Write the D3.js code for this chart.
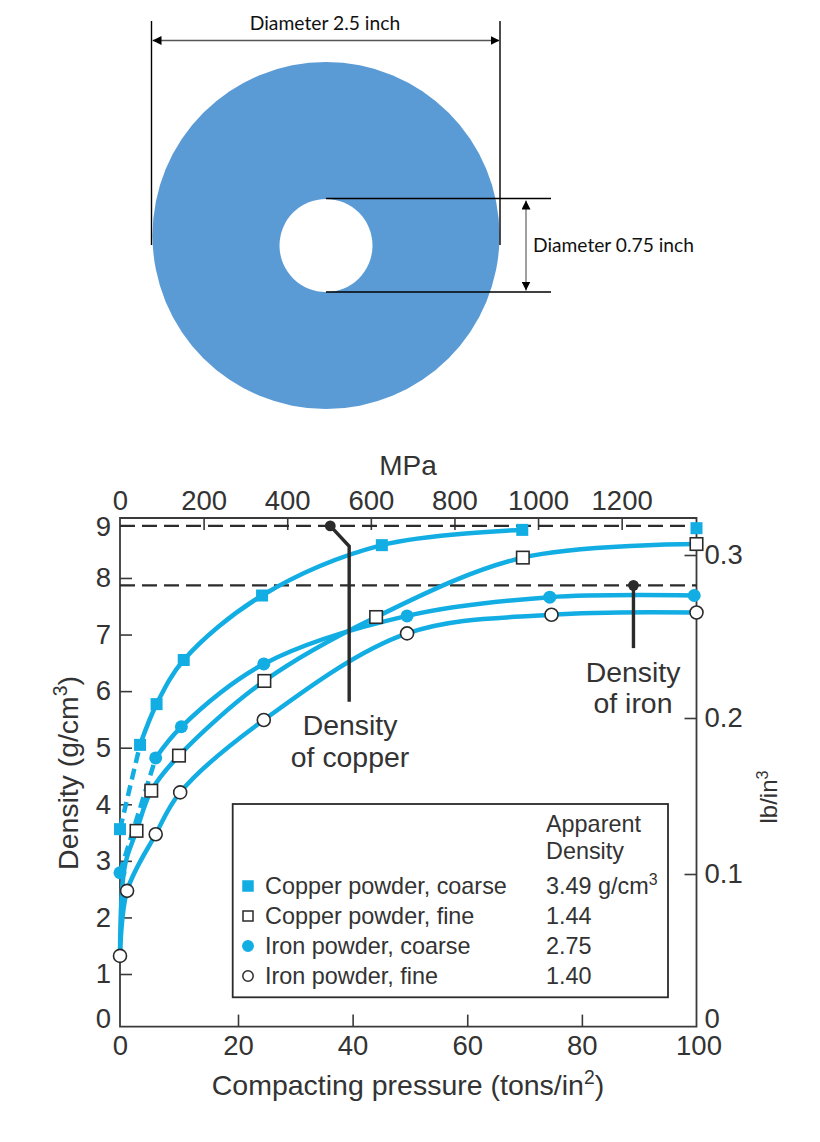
<!DOCTYPE html>
<html>
<head>
<meta charset="utf-8">
<script src="https://cdn.jsdelivr.net/npm/d3@7"></script>
<style>
  html, body { margin: 0; padding: 0; background: #fff; }
  svg { display: block; }
  text { font-family: "Liberation Sans", sans-serif; fill: #333; }
  .dim text { font-family: "Lato", sans-serif; fill: #111; }
  .axis .domain { display: none; }
  .axis line { stroke: #3a3a3a; stroke-width: 1.6; }
  .axis text { font-family: "Liberation Sans", sans-serif; font-size: 27.5px; fill: #333; }
</style>
</head>
<body>
<svg id="chart" width="820" height="1142"></svg>
<script>
// Axis ticks
var tonsTicks = [0, 20, 40, 60, 80, 100];
var mpaTicks = [0, 200, 400, 600, 800, 1000, 1200];
var densityTicks = [0, 1, 2, 3, 4, 5, 6, 7, 8, 9];
var lbTicks = [0, 0.1, 0.2, 0.3];

// Measured points, [tons/in2, g/cm3]
var copperCoarse = [[0, 3.56], [3.4, 5.05], [6.2, 5.77], [10.8, 6.55], [24.2, 7.69], [45.1, 8.58], [69.6, 8.85], [100, 8.88]];
var copperFine = [[0.8, 2.9], [2.8, 3.53], [5.3, 4.24], [10, 4.86], [24.6, 6.18], [44.1, 7.31], [69.7, 8.36], [100, 8.6]];
var ironCoarse = [[0, 2.79], [6.05, 4.82], [10.4, 5.37], [24.5, 6.48], [49.5, 7.33], [74.4, 7.66], [99.6, 7.69]];
var ironFine = [[0, 1.32], [1.2, 2.47], [6.05, 3.47], [10.2, 4.21], [24.5, 5.49], [49.5, 7.02], [74.7, 7.35], [100, 7.39]];

// Reference densities and their leaders
var densityCopper = 8.92;
var densityIron = 7.87;
var copperLeader = [[36.1, 8.92], [39.4, 8.56], [39.4, 5.81]];
var ironLeader = [[89, 7.87], [89, 6.76]];

// Legend
var legendNames = ['Copper powder, coarse', 'Copper powder, fine', 'Iron powder, coarse', 'Iron powder, fine'];
var legendValues = ['3.49 g/cm', '1.44', '2.75', '1.40'];

var blue = '#12ade3';
var dark = '#2b2b2b';

var svg = d3.select('#chart');

var defs = svg.append('defs');
defs.append('marker').attr('id', 'arrow')
  .attr('viewBox', '0 0 10 10').attr('refX', 10).attr('refY', 5)
  .attr('markerUnits', 'userSpaceOnUse').attr('markerWidth', 9).attr('markerHeight', 9)
  .attr('orient', 'auto-start-reverse')
  .append('path').attr('d', 'M0,0L10,5L0,10Z').attr('fill', '#000');

// Ring drawing
var dim = svg.append('g').attr('class', 'dim');
dim.append('circle').attr('cx', 326).attr('cy', 235.5).attr('r', 173.5).attr('fill', '#5b9bd5');
dim.append('circle').attr('cx', 326).attr('cy', 245.5).attr('r', 46.5).attr('fill', '#fff');

var dimLine = function(x1, y1, x2, y2, color, arrows) {
  var l = dim.append('line')
    .attr('x1', x1).attr('y1', y1).attr('x2', x2).attr('y2', y2)
    .attr('stroke', color).attr('stroke-width', 1.4);
  if (arrows) {
    l.attr('marker-start', 'url(#arrow)').attr('marker-end', 'url(#arrow)');
  }
};
dimLine(151.5, 21, 151.5, 245, '#000');
dimLine(500, 21, 500, 245, '#000');
dimLine(152.5, 40.5, 499.5, 40.5, '#555', true);
dimLine(326, 198.5, 551, 198.5, '#000');
dimLine(326, 292, 551, 292, '#000');
dimLine(526, 200.5, 526, 290.5, '#777', true);
dim.append('text').attr('x', 325).attr('y', 30).attr('text-anchor', 'middle')
  .attr('font-size', 19.3).text('Diameter 2.5 inch');
dim.append('text').attr('x', 533).attr('y', 252)
  .attr('font-size', 19.2).text('Diameter 0.75 inch');

// Scales, the printed axes are not quite even so some have extra stops
var plotLeft = 120, plotRight = 696.5, plotTop = 518, plotBottom = 1026.6;
var x = d3.scaleLinear().domain([0, 20, 100]).range([plotLeft, 238, plotRight]);
var xTop = d3.scaleLinear().domain([0, 1379]).range([plotLeft, plotRight]);
var y = d3.scaleLinear().domain([0, 1, 9.06]).range([plotBottom, 974, plotTop]);
var yRight = d3.scaleLinear().domain([0, 0.1, 0.2, 0.3]).range([plotBottom, 874, 718, 555]);

var plot = svg.append('g');

// Axes
var bottomAxis = plot.append('g').attr('class', 'axis')
  .attr('transform', 'translate(0,' + plotBottom + ')')
  .call(d3.axisBottom(x).tickValues(tonsTicks).tickSize(-12).tickPadding(9));
var topAxis = plot.append('g').attr('class', 'axis')
  .attr('transform', 'translate(0,' + plotTop + ')')
  .call(d3.axisTop(xTop).tickValues(mpaTicks).tickSize(-12).tickPadding(8).tickFormat(d3.format('d')));
var leftAxis = plot.append('g').attr('class', 'axis')
  .attr('transform', 'translate(' + plotLeft + ',0)')
  .call(d3.axisLeft(y).tickValues(densityTicks).tickSize(-12).tickPadding(9));
var rightAxis = plot.append('g').attr('class', 'axis')
  .attr('transform', 'translate(' + plotRight + ',0)')
  .call(d3.axisRight(yRight).tickValues(lbTicks).tickSize(-12).tickPadding(8)
    .tickFormat(function(d) { return d === 0 ? '0' : d3.format('.1f')(d); }));

// End ticks sit on the frame and are not printed
bottomAxis.selectAll('.tick').filter(function(d) { return d === 0 || d === 100; }).select('line').remove();
topAxis.selectAll('.tick').filter(function(d) { return d === 0; }).select('line').remove();
leftAxis.selectAll('.tick').filter(function(d) { return d === 0 || d === 9; }).select('line').remove();
rightAxis.selectAll('.tick').filter(function(d) { return d === 0; }).select('line').remove();

// Labels at the corners are nudged off the frame
leftAxis.selectAll('.tick').filter(function(d) { return d === 0; }).select('text').attr('dy', '0.05em');
leftAxis.selectAll('.tick').filter(function(d) { return d === 9; }).select('text').attr('dy', '0.5em');
bottomAxis.selectAll('.tick').filter(function(d) { return d === 100; }).select('text').attr('dx', 2);
rightAxis.selectAll('.tick').filter(function(d) { return d === 0; }).select('text').attr('dy', '0.05em');

// Frame
plot.append('path')
  .attr('d', 'M' + plotLeft + ',' + plotTop + 'H' + plotRight + 'V' + plotBottom + 'H' + plotLeft + 'Z')
  .attr('fill', 'none').attr('stroke', '#3a3a3a').attr('stroke-width', 1.8);

// Dashed reference densities
plot.selectAll('.refLine').data([densityCopper, densityIron]).enter().append('line')
  .attr('class', 'refLine')
  .attr('x1', plotLeft).attr('x2', plotRight)
  .attr('y1', function(d) { return y(d); })
  .attr('y2', function(d) { return y(d); })
  .attr('stroke', dark).attr('stroke-width', 2.4).attr('stroke-dasharray', '15 7');

// Curves
var line = d3.line()
  .x(function(d) { return x(d[0]); })
  .y(function(d) { return y(d[1]); })
  .curve(d3.curveCatmullRom.alpha(0.5));

var drawCurve = function(points, dashed) {
  plot.append('path').datum(points)
    .attr('d', line)
    .attr('fill', 'none').attr('stroke', blue).attr('stroke-width', 4.5)
    .attr('stroke-dasharray', dashed ? '11 6' : null);
};

drawCurve(copperCoarse.slice(0, 2), true);
drawCurve(copperCoarse.slice(1, 7));
drawCurve(ironCoarse.slice(0, 2), true);
drawCurve(ironCoarse.slice(1));
drawCurve([ironFine[0]].concat(copperFine));
drawCurve(ironFine);

// Markers
var drawSquares = function(g, points, fill, stroke, size) {
  g.selectAll('.sq').data(points).enter().append('rect').attr('class', 'sq')
    .attr('x', function(d) { return x(d[0]) - size / 2; })
    .attr('y', function(d) { return y(d[1]) - size / 2; })
    .attr('width', size).attr('height', size)
    .attr('fill', fill).attr('stroke', stroke).attr('stroke-width', 1.6);
};
var drawCircles = function(g, points, fill, stroke, r) {
  g.selectAll('.dot').data(points).enter().append('circle').attr('class', 'dot')
    .attr('cx', function(d) { return x(d[0]); })
    .attr('cy', function(d) { return y(d[1]); })
    .attr('r', r)
    .attr('fill', fill).attr('stroke', stroke).attr('stroke-width', 1.6);
};
// the first fine copper square is lost under the curves in the print
drawSquares(plot.append('g'), copperFine.slice(1), '#fff', dark, 12.5);
drawSquares(plot.append('g'), copperCoarse, blue, 'none', 12);
drawCircles(plot.append('g'), ironCoarse, blue, 'none', 6.5);
drawCircles(plot.append('g'), ironFine, '#fff', dark, 6.5);

// Leaders
var leader = d3.line()
  .x(function(d) { return x(d[0]); })
  .y(function(d) { return y(d[1]); });
[copperLeader, ironLeader].forEach(function(points) {
  plot.append('path').datum(points).attr('d', leader)
    .attr('fill', 'none').attr('stroke', dark).attr('stroke-width', 3.4);
  plot.append('circle').datum(points[0])
    .attr('cx', function(d) { return x(d[0]); })
    .attr('cy', function(d) { return y(d[1]); })
    .attr('r', 5.4).attr('fill', dark);
});

var label = function(px, py, str, size, anchor) {
  return plot.append('text').attr('x', px).attr('y', py)
    .attr('font-size', size).attr('text-anchor', anchor || 'middle').text(str);
};
var sup = function(t, str, size) {
  t.append('tspan').attr('dy', -size * 0.38).attr('font-size', size * 0.68).text(str);
  return t;
};

label(350, 735, 'Density', 28.4);
label(350, 767, 'of copper', 28.4);
label(633, 682, 'Density', 28.4);
label(633, 713, 'of iron', 28.4);

// Axis titles
label(408, 475, 'MPa', 28);
var xTitle = label(408, 1095, 'Compacting pressure (tons/in', 28.5);
sup(xTitle, '2', 28.5);
xTitle.append('tspan').attr('dy', 28.5 * 0.38).text(')');

var yTitle = label(0, 0, 'Density (g/cm', 28.4).attr('transform', 'translate(78,773) rotate(-90)');
sup(yTitle, '3', 28.4);
yTitle.append('tspan').attr('dy', 28.4 * 0.38).text(')');

var rTitle = label(0, 0, 'lb/in', 24).attr('transform', 'translate(777,797) rotate(-90)');
sup(rTitle, '3', 24);

// Legend
var legend = plot.append('g');
legend.append('rect').attr('x', 232.7).attr('y', 804).attr('width', 435.3).attr('height', 193.3)
  .attr('fill', '#fff').attr('stroke', dark).attr('stroke-width', 1.8);

label(546, 832, 'Apparent', 23.4, 'start');
label(546, 859, 'Density', 23.4, 'start');

var rowY = d3.scalePoint().domain(legendNames).range([894, 984]);
legendNames.forEach(function(name, i) {
  label(265, rowY(name), name, 23.4, 'start');
  var val = label(546, rowY(name), legendValues[i], 23.4, 'start');
  if (i === 0) {
    sup(val, '3', 23.4);
  }
  var cy = rowY(name) - 8;
  if (i < 2) {
    legend.append('rect').attr('x', 243).attr('y', cy - 5).attr('width', 10).attr('height', 10)
      .attr('fill', i === 0 ? blue : '#fff').attr('stroke', i === 0 ? blue : dark).attr('stroke-width', 1.5);
  } else {
    legend.append('circle').attr('cx', 248).attr('cy', cy).attr('r', 5.2)
      .attr('fill', i === 2 ? blue : '#fff').attr('stroke', i === 2 ? blue : dark).attr('stroke-width', 1.5);
  }
});
</script>
</body>
</html>
